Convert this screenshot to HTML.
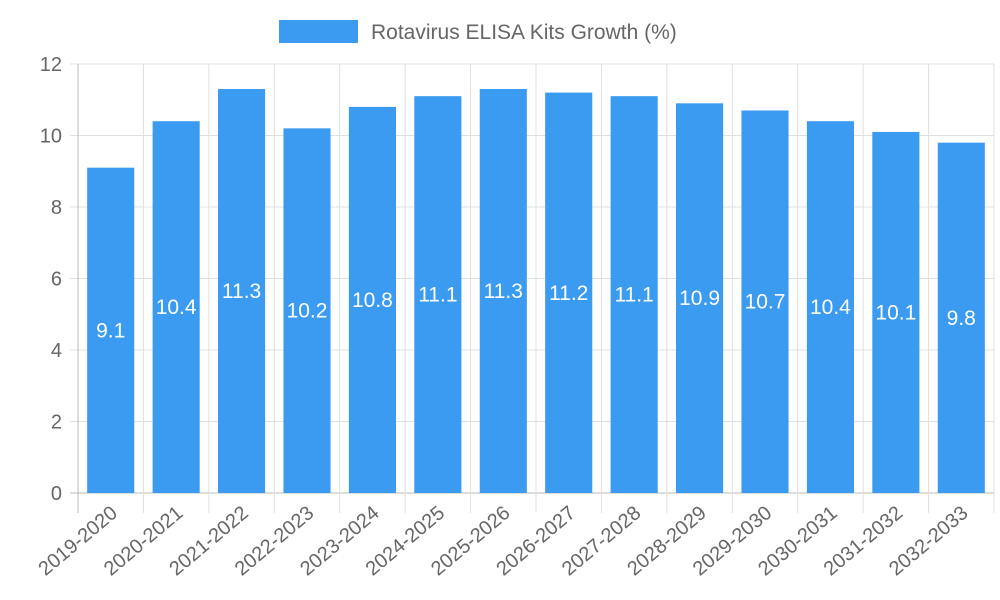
<!DOCTYPE html>
<html><head><meta charset="utf-8"><style>
html,body{margin:0;padding:0;background:#fff;}
svg{display:block;font-family:"Liberation Sans",sans-serif;}
</style></head><body>
<svg id="chart" width="1000" height="600">
<g>
<rect x="279" y="20" width="79" height="23" fill="#3a9bf0"></rect>
<text x="371" y="39" font-size="21" fill="#666">Rotavirus ELISA Kits Growth (%)</text>
</g>
<g id="grid"></g><g id="bars"></g><g id="axes"></g>
</svg>
<script>
const categories=["2019-2020","2020-2021","2021-2022","2022-2023","2023-2024","2024-2025","2025-2026","2026-2027","2027-2028","2028-2029","2029-2030","2030-2031","2031-2032","2032-2033"];
const growthValues=[9.1,10.4,11.3,10.2,10.8,11.1,11.3,11.2,11.1,10.9,10.7,10.4,10.1,9.8];
const yTicks=[0,2,4,6,8,10,12];
const NS="http://www.w3.org/2000/svg";
const L=78,R=994,T=64,B=493,yMax=12;
const step=(R-L)/categories.length;
function y(v){return B-(v/yMax)*(B-T);}
function x(i){return L+i*step;}
function mk(tag,attrs,parent){const e=document.createElementNS(NS,tag);for(const k in attrs)e.setAttribute(k,attrs[k]);parent.appendChild(e);return e;}
const grid=document.getElementById('grid'),bars=document.getElementById('bars'),axes=document.getElementById('axes');
yTicks.forEach(t=>{
const l=mk('line',{x1:70,x2:R,y1:y(t),y2:y(t),stroke:t===0?'#bbb':'#e0e0e0','stroke-width':1},grid);


const tx=mk('text',{x:62,y:y(t)+7,'text-anchor':'end','font-size':20,fill:'#666'},axes);
tx.textContent=t;


});
for(let i=0;i<=categories.length;i++){
const l=mk('line',{x1:x(i),x2:x(i),y1:T,y2:B+20,stroke:i===0?'#bbb':'#e0e0e0','stroke-width':1},grid);


}
categories.forEach((c,i)=>{
const w=step*0.72,cx=x(i)+step/2,v=growthValues[i];
const r=mk('rect',{x:cx-w/2,y:y(v),width:w,height:B-y(v),fill:'#3a9bf0'},bars);


const vl=mk('text',{x:cx,y:(y(v)+B)/2+7,'text-anchor':'middle','font-size':21,fill:'#fff'},bars);
vl.textContent=v;


const xl=mk('text',{x:cx+8,y:B+22,'text-anchor':'end','font-size':20,fill:'#666',transform:`rotate(-40 ${cx+8} ${B+22})`},axes);
xl.textContent=c;


});
</script>
</body></html>
